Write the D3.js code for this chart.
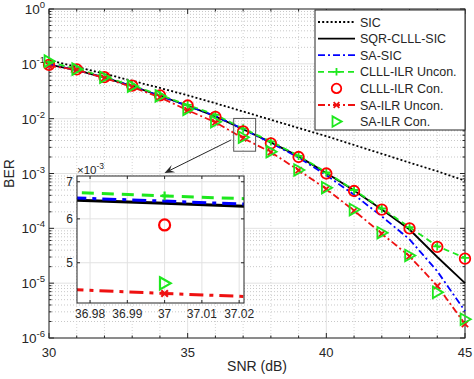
<!DOCTYPE html>
<html><head><meta charset="utf-8">
<script src="https://cdn.jsdelivr.net/npm/d3@7"></script>
<style>body{margin:0;background:#fff}text{font-family:"Liberation Sans",Arial,sans-serif;fill:#262626}</style>
</head><body><svg id="c" width="474" height="379"></svg>
<script>
// ---- data ----
const snr = [30,31,32,33,34,35,36,37,38,39,40,41,42,43,44,45];
const sic        = [0.117,0.088,0.066,0.049,0.0363,0.0266,0.0191,0.0135,0.00955,0.00676,0.00479,0.00331,0.00229,0.00158,0.0011,0.00074];
const sqrClllSic = [0.097,0.077,0.0562,0.0392,0.0262,0.0172,0.011,0.0064,0.0037,0.00205,0.00102,4.9e-4,2.2e-4,9.5e-5,3.0e-5,1.0e-5];
const saSic      = [0.097,0.077,0.056,0.039,0.026,0.0171,0.0112,0.00646,0.00362,0.00195,9.3e-4,4.1e-4,1.65e-4,6.3e-5,1.65e-5,3.1e-6];
const clllUncon  = [0.108,0.081,0.058,0.0405,0.027,0.0178,0.0118,0.0066,0.00385,0.0021,0.00105,5.0e-4,2.3e-4,1.05e-4,4.7e-5,2.9e-5];
const clllCon    = [0.096,0.079,0.057,0.040,0.0266,0.0174,0.0108,0.00585,0.00355,0.0020,0.0010,4.8e-4,2.2e-4,1.0e-4,4.6e-5,2.8e-5];
const saIlrUncon = [0.092,0.078,0.055,0.0378,0.0245,0.0142,0.0086,0.0044,0.00245,0.00115,5.2e-4,2.1e-4,8.0e-5,3.1e-5,8.9e-6,1.8e-6];
const saIlrCon   = [0.112,0.080,0.057,0.0392,0.026,0.0148,0.0088,0.00459,0.0025,0.00116,5.5e-4,2.2e-4,8.3e-5,3.2e-5,6.8e-6,2.2e-6];
const names = ["SIC","SQR-CLLL-SIC","SA-SIC","CLLL-ILR Uncon.","CLLL-ILR Con.","SA-ILR Uncon.","SA-ILR Con."];
const xTicks = [30,35,40,45];
const yTicks = [1e-6,1e-5,1e-4,1e-3,1e-2,1e-1,1];
const yTickExp = ["-6","-5","-4","-3","-2","-1","0"];
const insetXTicks = [36.98,36.99,37,37.01,37.02];
const insetXLabels = ["36.98","36.99","37","37.01","37.02"];
const insetYTicks = [0.005,0.006,0.007];
const insetYLabels = ["5","6","7"];
const zoomBox = {x0:36.66,x1:37.45,y0:2.55e-3,y1:1.01e-2};
const arrowFrom = {x:36.57,y:4.1e-3};

const series = [
  {v:sic,color:"#000",dash:"2,2.2",line:true,marker:null},
  {v:sqrClllSic,color:"#000",dash:null,line:true,marker:null},
  {v:saSic,color:"#0000ff",dash:"7,3,2,3",line:true,marker:null},
  {v:clllUncon,color:"#1ee81e",dash:"6,4",line:true,marker:"plus"},
  {v:clllCon,color:"#ff0000",dash:null,line:false,marker:"circle"},
  {v:saIlrUncon,color:"#ee1111",dash:"7,3,2,3",line:true,marker:"x"},
  {v:saIlrCon,color:"#1ee81e",dash:null,line:false,marker:"tri"}
];
series.forEach((s,i)=>s.name=names[i]);

const svg = d3.select("#c");
const L=49,R=465,T=9,B=338;
const x = d3.scaleLinear().domain([30,45]).range([L,R]);
const y = d3.scaleLog().domain([1e-6,1]).range([B,T]);

// grid
const g = svg.append("g");
const minorY=[]; for(let d=-6; d<0; d++) for(let k=2;k<=9;k++) minorY.push(k*Math.pow(10,d));
const minorX=d3.range(31,45).filter(v=>v%5!==0);
g.selectAll(".mgy").data(minorY).enter().append("line")
 .attr("x1",L).attr("x2",R).attr("y1",d=>y(d)).attr("y2",d=>y(d))
 .attr("stroke","#c8c8c8").attr("stroke-width",1).attr("stroke-dasharray","1,2");
g.selectAll(".mgx").data(minorX).enter().append("line")
 .attr("y1",T).attr("y2",B).attr("x1",d=>x(d)).attr("x2",d=>x(d))
 .attr("stroke","#d4d4d4").attr("stroke-width",1).attr("stroke-dasharray","1,2");
g.selectAll(".gy").data(yTicks).enter().append("line")
 .attr("x1",L).attr("x2",R).attr("y1",d=>y(d)).attr("y2",d=>y(d))
 .attr("stroke","#e2e2e2").attr("stroke-width",1);
g.selectAll(".gx").data(xTicks).enter().append("line")
 .attr("y1",T).attr("y2",B).attr("x1",d=>x(d)).attr("x2",d=>x(d))
 .attr("stroke","#e2e2e2").attr("stroke-width",1);

// axes box & ticks
const ax = svg.append("g");
ax.append("rect").attr("x",L).attr("y",T).attr("width",R-L).attr("height",B-T)
  .attr("fill","none").attr("stroke","#262626").attr("stroke-width",1);
const tk = (x1,y1,x2,y2)=>ax.append("line").attr("x1",x1).attr("y1",y1).attr("x2",x2).attr("y2",y2).attr("stroke","#262626").attr("stroke-width",1);
xTicks.forEach(v=>{tk(x(v),B,x(v),B-5);tk(x(v),T,x(v),T+5);});
minorX.forEach(v=>{tk(x(v),B,x(v),B-2.5);tk(x(v),T,x(v),T+2.5);});
yTicks.forEach(v=>{tk(L,y(v),L+5,y(v));tk(R,y(v),R-5,y(v));});
minorY.forEach(v=>{tk(L,y(v),L+2.5,y(v));tk(R,y(v),R-2.5,y(v));});
xTicks.forEach(v=>ax.append("text").attr("x",x(v)).attr("y",B+19).attr("text-anchor","middle").attr("font-size",13).text(v));
yTicks.forEach((v,i)=>{
  const t=ax.append("text").attr("x",L-4).attr("y",y(v)+5).attr("text-anchor","end").attr("font-size",13.5);
  t.append("tspan").text("10");
  t.append("tspan").attr("dy",-6).attr("font-size",9.5).text(yTickExp[i]);
});
ax.append("text").attr("x",(L+R)/2).attr("y",B+33).attr("text-anchor","middle").attr("font-size",14).text("SNR (dB)");
ax.append("text").attr("transform",`translate(14,${(T+B)/2}) rotate(-90)`).attr("text-anchor","middle").attr("font-size",14).text("BER");

// marker drawing
function marker(sel,type,color,sz,sw){
  if(type==="circle") sel.append("circle").attr("r",sz*0.5).attr("fill","none").attr("stroke",color).attr("stroke-width",sw);
  else if(type==="tri") sel.append("path").attr("d",`M${-sz*0.42},${-sz*0.55}L${sz*0.55},0L${-sz*0.42},${sz*0.55}Z`).attr("fill","none").attr("stroke",color).attr("stroke-width",sw);
  else if(type==="plus") {const h=sz*0.4; sel.append("path").attr("d",`M${-h},0H${h}M0,${-h}V${h}`).attr("stroke",color).attr("stroke-width",sw);}
  else if(type==="x") {const h=sz*0.3; sel.append("path").attr("d",`M${-h},${-h}L${h},${h}M${-h},${h}L${h},${-h}`).attr("stroke",color).attr("stroke-width",sw);}
}

function drawSeries(parent,xs,ys,lw,msz,mlw,dashScale){
  series.forEach(s=>{
    const pts = snr.map((d,i)=>[d,s.v[i]]);
    if(s.line){
      parent.append("path").datum(pts)
        .attr("d",d3.line().x(d=>xs(d[0])).y(d=>ys(d[1])))
        .attr("fill","none").attr("stroke",s.color).attr("stroke-width",lw)
        .attr("stroke-dasharray",s.dash? s.dash.split(",").map(v=>+v*dashScale).join(","):null);
    }
    if(s.marker){
      pts.forEach(p=>{
        const m=parent.append("g").attr("transform",`translate(${xs(p[0])},${ys(p[1])})`);
        marker(m,s.marker,s.color,msz,mlw);
      });
    }
  });
}
const pl = svg.append("g");
drawSeries(pl,x,y,1.8,10.5,1.8,1);

// zoom rectangle
svg.append("rect").attr("x",x(zoomBox.x0)).attr("y",y(zoomBox.y1)).attr("width",x(zoomBox.x1)-x(zoomBox.x0)).attr("height",y(zoomBox.y0)-y(zoomBox.y1))
  .attr("fill","none").attr("stroke","#555").attr("stroke-width",1);

// legend
const lg = svg.append("g");
const LX=315, LY=10, LW=150, LH=120;
lg.append("rect").attr("x",LX).attr("y",LY).attr("width",LW).attr("height",LH).attr("fill","#fff").attr("stroke","#262626").attr("stroke-width",1);
series.forEach((s,i)=>{
  const yy = LY+12+i*16.6;
  if(s.line) lg.append("line").attr("x1",LX+3).attr("x2",LX+40).attr("y1",yy).attr("y2",yy)
      .attr("stroke",s.color).attr("stroke-width",1.8).attr("stroke-dasharray",s.dash);
  if(s.marker){const m=lg.append("g").attr("transform",`translate(${LX+21.5},${yy})`);marker(m,s.marker,s.color,9.5,1.8);}
  lg.append("text").attr("x",LX+45).attr("y",yy+4.5).attr("font-size",12.5).text(s.name);
});

// inset
const IL=77,IR=244,IT=176,IB=303;
const xi = d3.scaleLinear().domain([36.9765,37.0213]).range([IL,IR]);
const yi = d3.scaleLog().domain([4.23e-3,7.17e-3]).range([IB,IT]);
const ins = svg.append("g");
ins.append("rect").attr("x",IL).attr("y",IT).attr("width",IR-IL).attr("height",IB-IT).attr("fill","#fff");
insetXTicks.forEach(v=>ins.append("line").attr("x1",xi(v)).attr("x2",xi(v)).attr("y1",IT).attr("y2",IB).attr("stroke","#e2e2e2"));
insetYTicks.forEach(v=>ins.append("line").attr("y1",yi(v)).attr("y2",yi(v)).attr("x1",IL).attr("x2",IR).attr("stroke","#e2e2e2"));
ins.append("clipPath").attr("id","iclip").append("rect").attr("x",IL).attr("y",IT).attr("width",IR-IL).attr("height",IB-IT);
const ipl = ins.append("g").attr("clip-path","url(#iclip)");
drawSeries(ipl,xi,yi,3,11,2.2,2);
ins.append("rect").attr("x",IL).attr("y",IT).attr("width",IR-IL).attr("height",IB-IT).attr("fill","none").attr("stroke","#262626");
const itk=(x1,y1,x2,y2)=>ins.append("line").attr("x1",x1).attr("y1",y1).attr("x2",x2).attr("y2",y2).attr("stroke","#262626");
insetXTicks.forEach(v=>{itk(xi(v),IB,xi(v),IB-3);itk(xi(v),IT,xi(v),IT+3);});
insetYTicks.forEach(v=>{itk(IL,yi(v),IL+3,yi(v));itk(IR,yi(v),IR-3,yi(v));});
insetXTicks.forEach((v,i)=>ins.append("text").attr("x",xi(v)).attr("y",IB+15).attr("text-anchor","middle").attr("font-size",12).text(insetXLabels[i]));
insetYTicks.forEach((v,i)=>ins.append("text").attr("x",IL-4).attr("y",yi(v)+4.5).attr("text-anchor","end").attr("font-size",12).text(insetYLabels[i]));
const ex = ins.append("text").attr("x",IL).attr("y",IT-2).attr("font-size",11.5);
ex.append("tspan").text("\u00d710");
ex.append("tspan").attr("dy",-5).attr("font-size",8.5).text("-3");

// arrow
const ax0=x(arrowFrom.x), ay0=y(arrowFrom.y), ax1=(IL+IR)/2+4, ay1=IT-3;
const ang=Math.atan2(ay1-ay0,ax1-ax0);
svg.append("line").attr("x1",ax0).attr("y1",ay0).attr("x2",ax1-6*Math.cos(ang)).attr("y2",ay1-6*Math.sin(ang)).attr("stroke","#262626").attr("stroke-width",1);
const hl=10, hw=4;
const bx=ax1-hl*Math.cos(ang), by=ay1-hl*Math.sin(ang);
svg.append("path").attr("d",`M${ax1},${ay1}L${bx+hw*Math.sin(ang)},${by-hw*Math.cos(ang)}L${ax1-6*Math.cos(ang)},${ay1-6*Math.sin(ang)}L${bx-hw*Math.sin(ang)},${by+hw*Math.cos(ang)}Z`).attr("fill","#262626");
</script></body></html>
